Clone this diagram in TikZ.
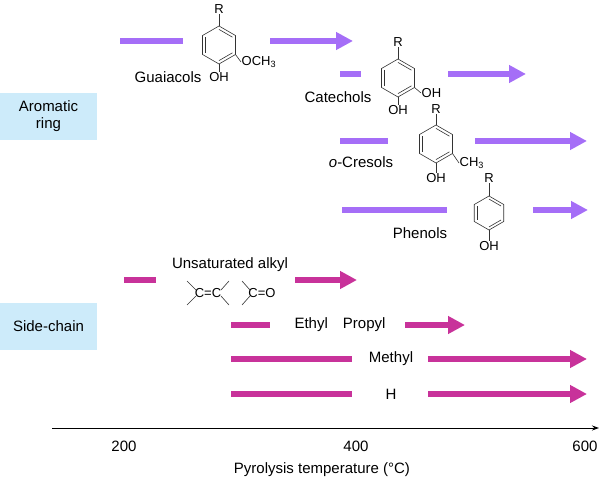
\documentclass[tikz,border=0pt]{standalone}
\usepackage{fontspec}
\setmainfont{Liberation Sans}
\usetikzlibrary{arrows.meta,calc}
\definecolor{pur}{HTML}{A56EF7}
\definecolor{mag}{HTML}{C8329A}
\definecolor{lb}{HTML}{CDEBFA}
\tikzset{
 pbar/.style={line width=6pt,draw=pur},
 parr/.style={line width=6pt,draw=pur,-{Triangle[length=17pt,width=17pt]}},
 mbar/.style={line width=6pt,draw=mag},
 marr/.style={line width=6pt,draw=mag,-{Triangle[length=17pt,width=17pt]}},
 lbl/.style={font=\fontsize{15}{17}\selectfont,inner sep=1pt},
 sm/.style={font=\fontsize{13}{15}\selectfont,inner sep=0.5pt},
 box/.style={fill=lb,draw=none,minimum width=97pt,minimum height=47pt,align=center,font=\fontsize{15}{17}\selectfont},
 bond/.style={line width=0.6pt,draw=black!80}
}
\newcommand{\myring}[3]{%
 \begin{scope}[shift={(#1,#2)}]
 \draw[bond] (90:#3)--(30:#3)--(-30:#3)--(-90:#3)--(-150:#3)--(150:#3)--cycle;
 \draw[bond] ($(150:#3)!0.18!(0,0)$)--($(-150:#3)!0.18!(0,0)$);
 \draw[bond] ($(30:#3)!0.18!(0,0)$)--($(90:#3)!0.18!(0,0)$);
 \draw[bond] ($(-30:#3)!0.18!(0,0)$)--($(-90:#3)!0.18!(0,0)$);
 \end{scope}}
\begin{document}
\begin{tikzpicture}[x=1pt,y=-1pt]
\useasboundingbox (0,0) rectangle (600,481);
\node[box] (ar) at (48.5,116.5) {Aromatic\\ring};
\node[box] (sc) at (48.5,326) {Side-chain};
% Guaiacols
\coordinate (g1) at (120,41); \coordinate (g2) at (183,41);
\coordinate (g3) at (270,41); \coordinate (g4) at (353,41);
\draw[pbar] (g1)--(g2); \draw[parr] (g3)--(g4);
\myring{219}{45}{19}
\node[sm] (gR) at (219,9) {R};
\node[sm] (gOH) at (219,77) {OH};
\node[sm,anchor=west] (gO) at (241,62) {OCH\textsubscript{3}};
\draw[bond] (219,26)--(gR); \draw[bond] (219,64)--(gOH); \draw[bond] (235.5,54.5)--(gO.west);
\node[lbl] (gt) at (168,77) {Guaiacols};
% Catechols
\coordinate (c1) at (340,74); \coordinate (c2) at (361,74);
\coordinate (c3) at (448,74); \coordinate (c4) at (526,74);
\draw[pbar] (c1)--(c2); \draw[parr] (c3)--(c4);
\myring{398}{78}{19}
\node[sm] (cR) at (398,42) {R};
\node[sm,anchor=west] (cO1) at (421,93) {OH};
\node[sm] (cO2) at (398,110) {OH};
\draw[bond] (398,59)--(cR); \draw[bond] (414.5,87.5)--(cO1.west); \draw[bond] (398,97)--(cO2);
\node[lbl] (ct) at (338,97) {Catechols};
% o-Cresols
\coordinate (o1) at (340,141); \coordinate (o2) at (388,141);
\coordinate (o3) at (475,141); \coordinate (o4) at (587,141);
\draw[pbar] (o1)--(o2); \draw[parr] (o3)--(o4);
\myring{436}{144}{19}
\node[sm] (oR) at (436,109) {R};
\node[sm,anchor=west] (oC) at (459,163) {CH\textsubscript{3}};
\node[sm] (oOH) at (436,178) {OH};
\draw[bond] (436,125)--(oR); \draw[bond] (452.5,153.5)--(oC.west); \draw[bond] (436,163)--(oOH);
\node[lbl] (ot) at (361,162) {\textit{o}-Cresols};
% Phenols
\coordinate (p1) at (342,210); \coordinate (p2) at (447,210);
\coordinate (p3) at (533,210); \coordinate (p4) at (588,210);
\draw[pbar] (p1)--(p2); \draw[parr] (p3)--(p4);
\myring{489}{213}{17}
\node[sm] (pR) at (489,178) {R};
\node[sm] (pOH) at (489,246) {OH};
\draw[bond] (489,196)--(pR); \draw[bond] (489,230)--(pOH);
\node[lbl] (pt) at (420,233) {Phenols};
% Unsaturated
\coordinate (u1) at (124,280); \coordinate (u2) at (156,280);
\coordinate (u3) at (295,280); \coordinate (u4) at (357,280);
\draw[mbar] (u1)--(u2); \draw[marr] (u3)--(u4);
\node[lbl] (ut) at (230,265) {Unsaturated alkyl};
\node[sm] (cc) at (208,293) {C=C};
\draw[bond] (187,281)--(196,290) (187,305)--(196,296) (221,290)--(229,281) (221,296)--(229,305);
\node[sm] (co) at (262,293) {C=O};
\draw[bond] (242,281)--(250,290) (242,305)--(250,296);
% Ethyl propyl
\coordinate (e1) at (231,325); \coordinate (e2) at (270,325);
\coordinate (e3) at (405,325); \coordinate (e4) at (465,325);
\draw[mbar] (e1)--(e2); \draw[marr] (e3)--(e4);
\node[lbl] (et) at (340,325) {Ethyl\quad Propyl};
% Methyl
\coordinate (m1) at (231,359); \coordinate (m2) at (352,359);
\coordinate (m3) at (428,359); \coordinate (m4) at (587,359);
\draw[mbar] (m1)--(m2); \draw[marr] (m3)--(m4);
\node[lbl] (mt) at (391,359) {Methyl};
% H
\coordinate (h1) at (231,394); \coordinate (h2) at (352,394);
\coordinate (h3) at (428,394); \coordinate (h4) at (587,394);
\draw[mbar] (h1)--(h2); \draw[marr] (h3)--(h4);
\node[lbl] (ht) at (391,394) {H};
% axis
\coordinate (a1) at (52,428); \coordinate (a2) at (599,428);
\draw[line width=1pt,-{Stealth[length=7pt,width=5pt]}] (a1)--(a2);
\node[lbl] (t200) at (124,446) {200};
\node[lbl] (t400) at (356,446) {400};
\node[lbl] (t600) at (585,446) {600};
\node[lbl] (xl) at (322,470) {Pyrolysis temperature (°C)};
\end{tikzpicture}
\end{document}
